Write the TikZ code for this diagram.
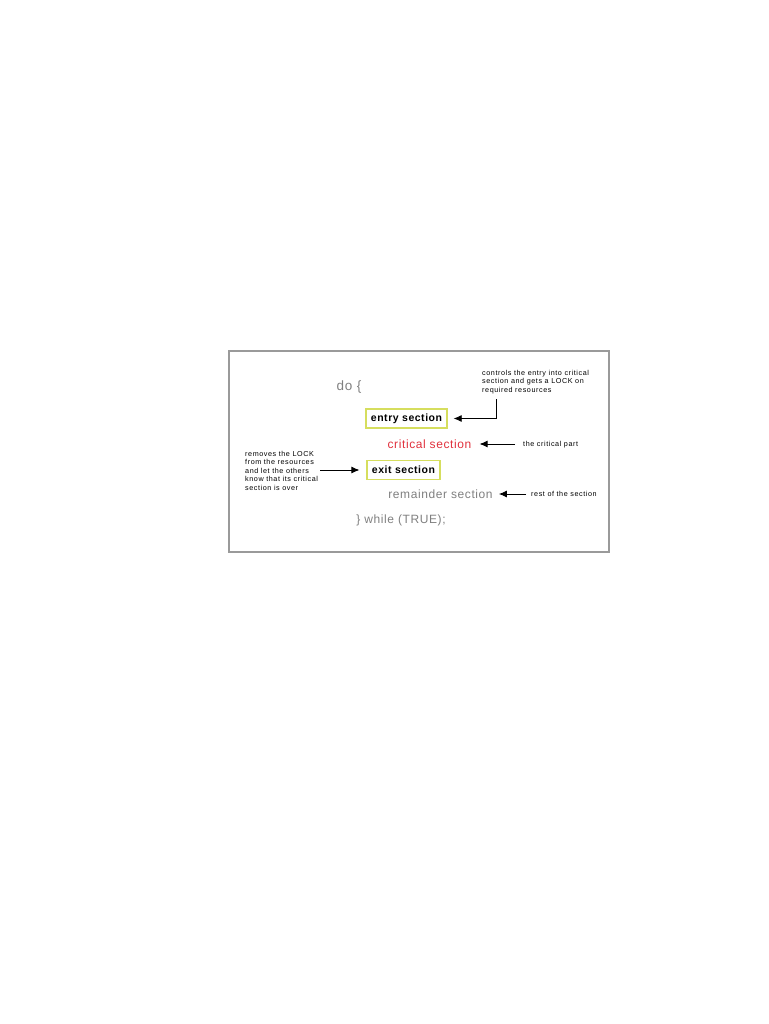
\documentclass[tikz,border=0pt]{standalone}
\usepackage{fontspec}
\setmainfont{Liberation Sans}
\newfontfamily\mainfam{Liberation Sans}[LetterSpace=5]
\newfontfamily\annfam{Liberation Sans}[LetterSpace=8]
\usetikzlibrary{arrows.meta}
\definecolor{frameg}{HTML}{9A9A9A}
\definecolor{boxy}{HTML}{D6DE5E}
\definecolor{codeg}{HTML}{7F7F7F}
\definecolor{critred}{HTML}{E0303C}
\tikzset{
  frame/.style={draw=frameg, line width=2.5pt},
  sectbox/.style={draw=boxy, line width=1.2pt, inner xsep=5pt, minimum height=19pt, text=black,
    font=\mainfam\fontsize{10.5}{12}\selectfont\bfseries},
  codetxt/.style={text=codeg, inner sep=0pt, font=\mainfam\fontsize{12}{14}\selectfont},
  anntxt/.style={inner sep=0pt, align=left, font=\annfam\fontsize{7.2}{8.5}\selectfont},
  arr/.style={draw=black, line width=0.8pt, -{Latex[length=8pt,width=7pt]}}
}
\begin{document}
\begin{tikzpicture}[x=1pt,y=-1pt]
\useasboundingbox (0,0) rectangle (768,1024);
\draw[frame] (229,351) rectangle (609,552);

\node[codetxt, font=\mainfam\fontsize{13.5}{15}\selectfont] (do) at (349,387) {do \{};
\node[sectbox] (entry) at (406.5,418.5) {entry section};
\node[codetxt, text=critred] (crit) at (429.5,444) {critical section};
\node[sectbox] (exit) at (403.5,470) {exit section};
\node[codetxt] (rem) at (440.5,494) {remainder section};
\node[codetxt] (while) at (401,520) {\} while (TRUE);};

\node[anntxt, anchor=north west] (ann1) at (482,370) {controls the entry into critical\\section and gets a LOCK on\\required resources};
\node[anntxt, anchor=west] (ann2) at (523,445) {the critical part};
\node[anntxt, anchor=west] (ann3) at (531,494) {rest of the section};
\node[anntxt, anchor=north west] (ann4) at (245,451) {removes the LOCK\\from the resources\\and let the others\\know that its critical\\section is over};

\coordinate (c1) at (496,399);
\draw[arr] (c1) |- ([xshift=6pt]entry.east);
\draw[arr] ([xshift=-8pt]ann2.west |- crit.east) -- ([xshift=8pt]crit.east);
\draw[arr] ([xshift=-5pt]ann3.west |- rem.east) -- ([xshift=6pt]rem.east);
\draw[arr] ([xshift=2pt]ann4.east |- exit.west) -- ([xshift=-7pt]exit.west);
\end{tikzpicture}
\end{document}
